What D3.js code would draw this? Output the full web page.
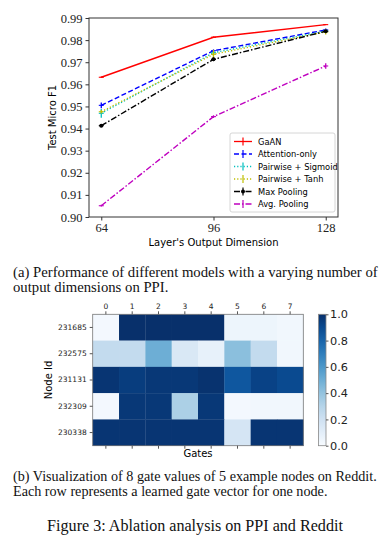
<!DOCTYPE html>
<html lang="en">
<head>
  <meta charset="UTF-8">
  <title>Ablation analysis on PPI and Reddit</title>
  <style>
    body{ margin:0; background:#fff; }
    svg{ display:block; }
    .cap{ font-family:"Liberation Serif", serif; font-size:14px; fill:#111; }
    .tick text{ fill:#222; }
  </style>
</head>
<body>
  <script src="https://cdn.jsdelivr.net/npm/d3@7"></script>
  <script>
    // ---- data: line chart (a) ----
    const dims = [64, 96, 128];
    const seriesNames = ['GaAN', 'Attention-only', 'Pairwise + Sigmoid', 'Pairwise + Tanh', 'Max Pooling', 'Avg. Pooling'];
    const gaan      = [0.9632, 0.9813, 0.9870];
    const attOnly   = [0.9505, 0.9752, 0.9846];
    const pwSigmoid = [0.9469, 0.9743, 0.9841];
    const pwTanh    = [0.9476, 0.9736, 0.9837];
    const maxPool   = [0.9413, 0.9713, 0.9840];
    const avgPool   = [0.9051, 0.9454, 0.9683];
    const errs = [
      [0.0003, 0.0003, 0.0002],
      [0.0013, 0.0006, 0.0006],
      [0.0020, 0.0008, 0.0008],
      [0.0008, 0.0020, 0.0012],
      [0.0006, 0.0008, 0.0006],
      [0.0004, 0.0006, 0.0012]
    ];
    const yTicks = [0.90, 0.91, 0.92, 0.93, 0.94, 0.95, 0.96, 0.97, 0.98, 0.99];

    // ---- data: heatmap (b) ----
    const gates = [0, 1, 2, 3, 4, 5, 6, 7];
    const nodeIds = ['231685', '232575', '231131', '232309', '230338'];
    const gateValues = [
      [0.02, 1.00, 1.00, 1.00, 1.00, 0.05, 0.05, 0.03],
      [0.25, 0.25, 0.50, 0.15, 0.08, 0.42, 0.25, 0.03],
      [0.98, 0.95, 0.97, 0.97, 0.99, 0.85, 0.93, 0.90],
      [0.02, 0.97, 0.97, 0.33, 0.97, 0.02, 0.03, 0.03],
      [0.98, 0.98, 0.98, 0.98, 0.98, 0.17, 0.98, 0.98]
    ];
    const cbTicks = [0.0, 0.2, 0.4, 0.6, 0.8, 1.0];

    const W = 387, H = 545;
    const svg = d3.select('body').append('svg').attr('width', W).attr('height', H);

    // fit a caption line to the width it has in the figure
    function fitLine(sel, target) {
      const len = sel.node().getComputedTextLength();
      const fs = parseFloat(getComputedStyle(sel.node()).fontSize);
      sel.style('font-size', (fs * target / len).toFixed(2) + 'px');
    }

    // ================= (a) line chart =================
    const colors = ['#ff0000', '#0000ff', '#00bfbf', '#bfbf00', '#000000', '#bf00bf'];
    const dashes = [null, '5,2.5', '1.2,2', '1.2,2', '6,2,1.5,2', '6,2,1.5,2'];
    const values = [gaan, attOnly, pwSigmoid, pwTanh, maxPool, avgPool];
    const series = seriesNames.map((n, i) => ({
      name: n, color: colors[i], dash: dashes[i],
      pts: dims.map((d, j) => ({x: d, y: values[i][j], e: errs[i][j]}))
    }));

    const pL = 89, pR = 338, pT = 18, pB = 217;
    const x = d3.scaleLinear().domain([60.5, 131.5]).range([pL, pR]);
    const y = d3.scaleLinear().domain([0.90, 0.99]).range([pB, pT]);

    const g = svg.append('g');
    g.append('rect').attr('x', pL).attr('y', pT)
      .attr('width', pR - pL).attr('height', pB - pT)
      .attr('fill', 'none').attr('stroke', '#333').attr('stroke-width', 1);

    const yAxis = g.append('g').attr('transform', `translate(${pL},0)`)
      .call(d3.axisLeft(y).tickValues(yTicks).tickFormat(d3.format('.2f')).tickSize(3.5).tickPadding(3));
    const xAxis = g.append('g').attr('transform', `translate(0,${pB})`)
      .call(d3.axisBottom(x).tickValues(dims).tickSize(3.5).tickPadding(3));
    [yAxis, xAxis].forEach(a => {
      a.select('.domain').remove();
      a.selectAll('line').attr('stroke', '#333');
      a.selectAll('text').style('font-family', '"Liberation Serif", serif').style('font-size', '12.5px');
    });

    g.append('text').attr('transform', `translate(56,${(pT + pB) / 2}) rotate(-90)`)
      .attr('text-anchor', 'middle')
      .style('font-family', '"DejaVu Sans", sans-serif').style('font-size', '10px')
      .text('Test Micro F1');
    g.append('text').attr('x', (pL + pR) / 2).attr('y', 246)
      .attr('text-anchor', 'middle')
      .style('font-family', '"DejaVu Sans", sans-serif').style('font-size', '10px')
      .text("Layer's Output Dimension");

    const line = d3.line().x(d => x(d.x)).y(d => y(d.y));
    const sg = g.selectAll('g.series').data(series).enter().append('g').attr('class', 'series');
    sg.append('path')
      .attr('d', d => line(d.pts))
      .attr('fill', 'none')
      .attr('stroke', d => d.color)
      .attr('stroke-width', 1.4)
      .attr('stroke-dasharray', d => d.dash);
    sg.each(function(s) {
      const sel = d3.select(this);
      s.pts.forEach(p => {
        sel.append('line')
          .attr('x1', x(p.x)).attr('x2', x(p.x))
          .attr('y1', y(p.y - p.e)).attr('y2', y(p.y + p.e))
          .attr('stroke', s.color).attr('stroke-width', 1.3);
        sel.append('line')
          .attr('x1', x(p.x) - 2.5).attr('x2', x(p.x) + 2.5)
          .attr('y1', y(p.y)).attr('y2', y(p.y))
          .attr('stroke', s.color).attr('stroke-width', 1.1);
        if (s.name === 'Max Pooling') {
          sel.append('circle').attr('cx', x(p.x)).attr('cy', y(p.y)).attr('r', 2).attr('fill', s.color);
        }
      });
    });

    // legend
    const lg = g.append('g').attr('transform', 'translate(230,133)');
    lg.append('rect').attr('width', 105).attr('height', 79).attr('rx', 2)
      .attr('fill', '#fff').attr('stroke', '#ccc').attr('stroke-width', 0.8);
    const li = lg.selectAll('g').data(series).enter().append('g')
      .attr('transform', (d, i) => `translate(0,${8.5 + i * 12.5})`);
    li.append('line').attr('x1', 4).attr('x2', 22).attr('y1', 0).attr('y2', 0)
      .attr('stroke', d => d.color).attr('stroke-width', 1.3).attr('stroke-dasharray', d => d.dash);
    li.append('line').attr('x1', 13).attr('x2', 13).attr('y1', -4).attr('y2', 4)
      .attr('stroke', d => d.color).attr('stroke-width', 1.2);
    li.filter(d => d.name === 'Max Pooling').append('circle')
      .attr('cx', 13).attr('cy', 0).attr('r', 2).attr('fill', '#000');
    li.append('text').attr('x', 28).attr('y', 3.3)
      .style('font-family', '"DejaVu Sans", sans-serif').style('font-size', '8.3px')
      .text(d => d.name);

    // captions
    const capA1 = svg.append('text').attr('class', 'cap').attr('x', 13).attr('y', 277)
      .text('(a) Performance of different models with a varying number of');
    fitLine(capA1, 365);
    svg.append('text').attr('class', 'cap').attr('x', 13).attr('y', 292)
      .style('font-size', capA1.style('font-size'))
      .text('output dimensions on PPI.');

    // ================= (b) heatmap =================
    const hL = 92.7, hR = 303.3, hT = 314.3, hB = 445.7;
    const hx = d3.scaleBand().domain(gates).range([hL, hR]);
    const hy = d3.scaleBand().domain(nodeIds).range([hT, hB]);
    const color = d3.scaleSequential(d3.interpolateBlues).domain([0, 1]);

    const hg = svg.append('g');
    const cells = [];
    nodeIds.forEach((n, r) => gates.forEach((c, k) => cells.push({n, c, v: gateValues[r][k]})));
    hg.selectAll('rect.cell').data(cells).enter().append('rect').attr('class', 'cell')
      .attr('x', d => hx(d.c)).attr('y', d => hy(d.n))
      .attr('width', hx.bandwidth() + 0.3).attr('height', hy.bandwidth() + 0.3)
      .attr('fill', d => color(d.v));
    hg.append('rect').attr('x', hL).attr('y', hT).attr('width', hR - hL).attr('height', hB - hT)
      .attr('fill', 'none').attr('stroke', '#777').attr('stroke-width', 0.8);

    const topAx = hg.append('g').attr('transform', `translate(0,${hT})`)
      .call(d3.axisTop(hx).tickSize(3).tickPadding(2));
    const botAx = hg.append('g').attr('transform', `translate(0,${hB})`)
      .call(d3.axisBottom(hx).tickSize(3).tickFormat(''));
    const leftAx = hg.append('g').attr('transform', `translate(${hL},0)`)
      .call(d3.axisLeft(hy).tickSize(3).tickPadding(3));
    [topAx, botAx, leftAx].forEach(a => {
      a.select('.domain').remove();
      a.selectAll('line').attr('stroke', '#555');
      a.selectAll('text').style('font-family', '"DejaVu Sans", sans-serif').style('font-size', '7.5px');
    });

    hg.append('text').attr('x', (hL + hR) / 2).attr('y', 457)
      .attr('text-anchor', 'middle')
      .style('font-family', '"DejaVu Sans", sans-serif').style('font-size', '10px')
      .text('Gates');
    hg.append('text').attr('transform', `translate(52,${(hT + hB) / 2}) rotate(-90)`)
      .attr('text-anchor', 'middle')
      .style('font-family', '"DejaVu Sans", sans-serif').style('font-size', '10px')
      .text('Node Id');

    // colorbar
    const cbX = 318.5, cbW = 7.5;
    const cb = d3.scaleLinear().domain([0, 1]).range([hB, hT]);
    const defs = svg.append('defs');
    const grad = defs.append('linearGradient').attr('id', 'cbgrad')
      .attr('x1', 0).attr('y1', 1).attr('x2', 0).attr('y2', 0);
    d3.range(0, 1.001, 0.1).forEach(t => {
      grad.append('stop').attr('offset', t).attr('stop-color', color(t));
    });
    hg.append('rect').attr('x', cbX).attr('y', hT).attr('width', cbW).attr('height', hB - hT)
      .attr('fill', 'url(#cbgrad)').attr('stroke', '#888').attr('stroke-width', 0.8);
    const cbAx = hg.append('g').attr('transform', `translate(${cbX + cbW},0)`)
      .call(d3.axisRight(cb).tickValues(cbTicks).tickFormat(d3.format('.1f')).tickSize(2.5).tickPadding(1.5));
    cbAx.select('.domain').remove();
    cbAx.selectAll('line').attr('stroke', '#555');
    cbAx.selectAll('text').style('font-family', '"DejaVu Sans", sans-serif').style('font-size', '11.3px');

    const capB1 = svg.append('text').attr('class', 'cap').attr('x', 13).attr('y', 481)
      .text('(b) Visualization of 8 gate values of 5 example nodes on Reddit.');
    fitLine(capB1, 364);
    svg.append('text').attr('class', 'cap').attr('x', 13).attr('y', 496)
      .style('font-size', capB1.style('font-size'))
      .text('Each row represents a learned gate vector for one node.');

    const capF = svg.append('text').attr('class', 'cap').attr('x', 195).attr('y', 531)
      .attr('text-anchor', 'middle')
      .text('Figure 3: Ablation analysis on PPI and Reddit');
    fitLine(capF, 296);
  </script>
</body>
</html>
